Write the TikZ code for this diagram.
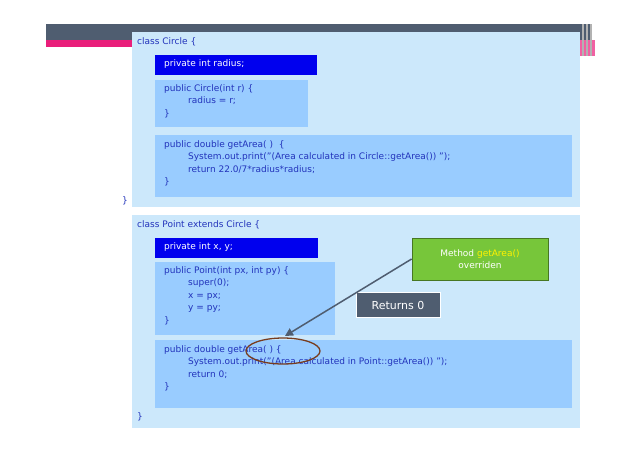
\documentclass[tikz,border=0pt]{standalone}
\usepackage{fontspec}
\setmainfont{DejaVu Sans}
\usetikzlibrary{arrows.meta,shapes.geometric}
\definecolor{panel}{HTML}{CCE8FB}
\definecolor{codebox}{HTML}{99CCFF}
\definecolor{dkblue}{HTML}{0000EE}
\definecolor{txt}{HTML}{2233BB}
\definecolor{bar}{HTML}{4F5D70}
\definecolor{pink}{HTML}{E91E7A}
\definecolor{grn}{HTML}{77C63A}
\definecolor{brn}{RGB}{120,60,30}
\begin{document}
\begin{tikzpicture}[x=1pt,y=-1pt,
  code/.style={font=\fontsize{9}{12.5}\selectfont, text=txt, anchor=north west, align=left, inner sep=0},
  box/.style={fill=codebox, draw=none}]
\useasboundingbox (0,0) rectangle (638,451);
\fill[white] (0,0) rectangle (638,451);
% header
\fill[bar] (46,24) rectangle (592,40);
\fill[pink] (46,40) rectangle (132,47);
\fill[pink!70] (580,40) rectangle (595,56);
\foreach \i in {582,586,590}{\fill[gray!60] (\i,24) rectangle (\i+1.5,56);}
% Circle panel
\fill[panel] (132,32) rectangle (580,207);
\node[code] (c1) at (137,37) {class Circle \{};
\fill[dkblue] (155,55) rectangle (317,75);
\node[code, text=white] (c2) at (164,59) {private int radius;};
\fill[codebox] (155,80) rectangle (308,127);
\node[code] (c3) at (164,84) {public Circle(int r) \{\\\hspace{24pt}radius = r;\\\}};
\fill[codebox] (155,135) rectangle (572,197);
\node[code] (c4) at (164,140) {public double getArea( ) \ \{\\\hspace{24pt}System.out.print("(Area calculated in Circle::getArea()) ");\\\hspace{24pt}return 22.0/7*radius*radius;\\\}};
\node[code] (c5) at (122,196) {\}};
% Point panel
\fill[panel] (132,215) rectangle (580,428);
\node[code] (p1) at (137,220) {class Point extends Circle \{};
\fill[dkblue] (155,238) rectangle (318,258);
\node[code, text=white] (p2) at (164,242) {private int x, y;};
\fill[codebox] (155,262) rectangle (335,335);
\node[code] (p3) at (164,266) {public Point(int px, int py) \{\\\hspace{24pt}super(0);\\\hspace{24pt}x = px;\\\hspace{24pt}y = py;\\\}};
\fill[codebox] (155,340) rectangle (572,408);
\node[code] (p4) at (164,345) {public double getArea( ) \{\\\hspace{24pt}System.out.print("(Area calculated in Point::getArea()) ");\\\hspace{24pt}return 0;\\\}};
\node[code] (p5) at (137,412) {\}};
% callouts
\node[fill=grn, draw=grn!60!black, line width=0.8pt, minimum width=136pt, minimum height=42pt, align=center, text=white, font=\fontsize{9}{12}\selectfont] (m) at (480,259) {Method \textcolor{yellow}{getArea()}\\overriden};
\node[fill=bar, draw=white, line width=1pt, minimum width=84pt, minimum height=25pt, text=white, font=\fontsize{11}{13}\selectfont] (r) at (398,305) {Returns 0};
\node[draw=brn, line width=1.3pt, ellipse, minimum width=74pt, minimum height=26pt, inner sep=0] (e) at (283,351) {};
\draw[bar, line width=1.5pt, -{Triangle[length=8pt,width=8pt]}] (m.west) -- (285,336);
\end{tikzpicture}
\end{document}
